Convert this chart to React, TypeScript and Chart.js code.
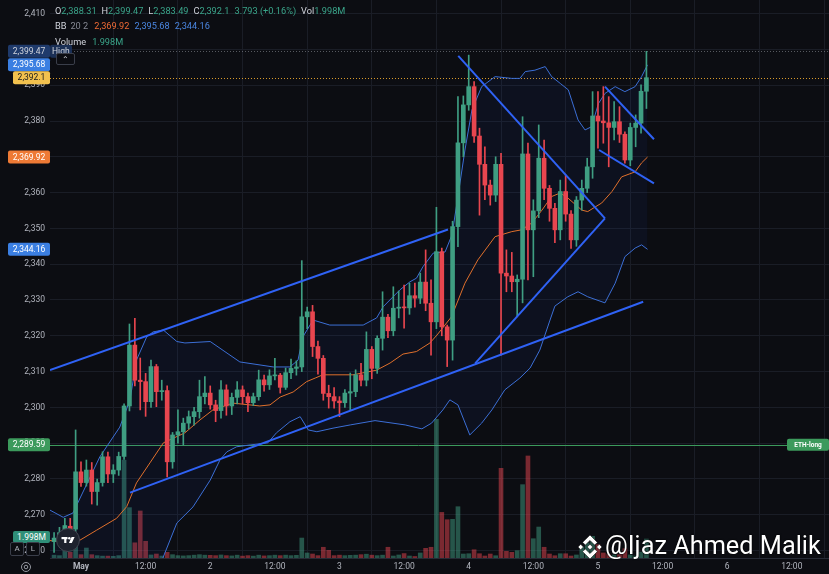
import React, { useEffect, useRef } from "react";
import { Chart, registerables } from "chart.js";
Chart.register(...registerables);

// ---------- data ----------
const firstHour = -5; // hours relative to May 1 00:00
const opens = [2262.5,2263.5,2265,2266.8,2266,
2282,2279,2282.5,2276.5,2279,2286.2,2281.4,2282.5,2286.3,2300.4,2317.4,2307.6,2307.2,2301.6,2311.4,2304.4,2304.7,2284.8,2292.3,2293.2,
2295.6,2297.4,2298.8,2303,2304,2300.7,2299.1,2304.9,2300.4,2302.8,2304.9,2303,2301.3,2303,2307.7,2306.3,2308.8,2309.0,2305.6,2309.7,
2310.9,2311.3,2325.3,2326.7,2317,2313.7,2303.9,2303,2301.8,2301.3,2304,2304.4,2309.1,2307.6,2316.2,2310.9,2319.3,2325.2,2321.4,2327.7,
2328,2327.8,2331.2,2330.5,2335,2329.1,2323.9,2343.5,2322.5,2318.8,2350.5,2373.9,2384.5,2389.6,2375.8,2367.9,2362.1,2359.3,2367.9,2337.5,
2336.7,2335.1,2335.8,2370.8,2349.6,2354.9,2369.6,2361.2,2355.6,2349.6,2360.3,2354,2346.8,2357.9,2361.2,2367.2,2381.4,2380,2379.5,2378.2,
2379.8,2376.3,2369.1,2378.2,2379.4,2388.31];
const highs = [2265,2266.5,2269,2269,2293.7,
2284.8,2285.3,2284.6,2280,2287.6,2287.5,2284,2287.5,2301,2323.3,2324.9,2313.8,2309.5,2313.2,2312,2307.6,2306,2293,2299.3,2297,
2299,2300,2307.6,2308.6,2306,2302,2307.5,2306.3,2304,2307.2,2306,2304,2304,2310.4,2309,2310.5,2313.7,2309.5,2311,2313.5,
2313,2341,2328,2328.5,2318.5,2314.5,2306.2,2305.5,2303,2305,2309.6,2310.5,2312.3,2321.1,2317,2320,2332.3,2326,2333.7,2332.5,
2334.2,2334.7,2334.7,2337.5,2344,2335.6,2355.9,2344.5,2323,2352,2386.8,2387,2398.4,2391,2378,2372.8,2363.5,2370,2371,2344,
2343.3,2337,2381.2,2373.8,2358,2378.9,2374.7,2362,2357,2363.5,2364.9,2355,2358.9,2363.5,2369.6,2388.2,2388.2,2389.6,2386.8,2385.4,
2384,2377,2379.4,2381.7,2390.1,2399.47];
const lows = [2259.5,2262,2264,2265,2264,
2277.9,2278,2273,2272.7,2278,2279,2279,2281,2285.5,2299,2306,2299.3,2297.5,2300,2300.2,2302,2280.6,2283,2290,2289.5,
2294,2295,2297,2301,2299.5,2296,2297,2297.8,2298,2301,2301,2298.8,2300.5,2302,2304.5,2305,2307.7,2304,2305,2308,
2309,2310,2322,2314.2,2309.3,2302,2299.8,2299.8,2297.4,2300,2299.3,2303,2306,2306,2308,2309.5,2316,2319.5,2320,2325,
2322.1,2326,2328,2329,2327,2314.6,2322,2320,2311.4,2313.2,2344.9,2370,2383,2374,2353.7,2358,2356.5,2357.5,2314.6,2332.3,
2332.3,2325.3,2329.2,2335.6,2336.5,2353,2358,2352,2346,2346.8,2352,2344.4,2345,2355.1,2360,2364,2372.4,2373.8,2367.2,2374.7,
2374,2368.2,2367.5,2372.8,2376.6,2383.49];
const closes = [2263.5,2265,2267,2265.9,2282,
2279,2282.5,2276.5,2279,2286.2,2281.4,2282.5,2286.3,2300.4,2317.4,2307.6,2307.2,2301.6,2311.4,2304.4,2304.7,2284.8,2292.3,2293.2,2295.6,
2297.4,2298.8,2303,2304,2300.7,2299.1,2304.9,2300.4,2302.8,2304.9,2303,2301.3,2303,2307.7,2306.3,2308.8,2309.0,2305.6,2309.7,2310.9,
2311.3,2325.3,2326.7,2317,2313.7,2303.9,2303,2301.8,2301.3,2304,2304.4,2309.1,2307.6,2316.2,2310.9,2319.3,2325.2,2321.4,2327.7,2328,
2327.8,2331.2,2330.5,2335,2329.1,2323.9,2343.5,2322.5,2318.8,2350.5,2373.9,2384.5,2389.6,2375.8,2367.9,2362.1,2359.3,2367.9,2337.5,2336.7,
2335.1,2335.8,2370.8,2349.6,2354.9,2369.6,2361.2,2355.6,2349.6,2360.3,2354,2346.8,2357.9,2361.2,2367.2,2381.4,2380,2379.5,2378.2,2379.8,
2376.3,2369.1,2378.2,2379.4,2388.31,2392.1];
const volumes = [0.3,0.25,1.3,0.6,2.1,
0.35,1.05,0.35,0.25,0.2,0.2,0.18,0.25,10.3,5.3,1.6,4.95,1.76,0.32,0.42,0.21,0.6,0.35,0.25,0.22,
0.25,0.3,0.35,0.3,0.28,0.25,0.32,0.25,0.22,0.3,0.2,0.25,0.2,0.3,0.22,0.25,0.3,0.25,0.3,0.25,
0.28,2.1,0.53,0.42,0.25,1.13,0.81,0.25,0.3,0.25,0.28,0.3,0.35,0.4,0.3,0.25,0.3,1.13,0.21,0.32,
0.47,0.21,0.16,0.53,1.02,1.13,14.6,4.8,4.03,4.07,5.4,0.42,0.45,0.87,0.45,0.21,0.42,0.24,9.44,0.7,
0.6,0.77,7.72,10.74,2.03,3.26,1.13,0.42,0.24,0.45,0.45,0.21,0.32,1.16,1.58,2.28,1.4,0.53,0.37,0.32,
0.35,0.98,0.32,0.21,0.63,1.998];

// Bollinger band readings (hour, price)
const bbUpperH = [-5.76,-3.3,-1.5,3.5,7.2,9.1,10.3,12.2,13.4,15.3,17.8,19.3,24,29.5,35.7,38.8,40.3,41.2,43.1,46.2,52.4,54.9,56.1,59.2,61.1,62.3,63.5,65.4,67.6,68.9,70,71.3,72.6,74.4,76.9,80,81.5,82.5,84.3,86.2,87.4,89,90.5,92.3,93.6,94.8,96.1,97.3,99.2,101,102.9,104.1,105.2];
const bbUpperV = [2271.3,2269.3,2270.5,2286.2,2294.5,2302.1,2313.2,2319.7,2321.1,2321.6,2318.4,2318,2318.4,2312.7,2311.3,2311.3,2313.2,2319.7,2324.4,2323,2323,2325,2328.1,2332.8,2335.1,2336.1,2339.3,2343.1,2343.4,2348.2,2358.9,2371.9,2383.1,2389.6,2392.4,2391.9,2391.9,2393.8,2394.2,2395.2,2392.4,2390.5,2388.7,2380.3,2377.5,2378.4,2384.9,2387.7,2389.6,2388.2,2389.6,2392.4,2395.68];
const bbMidH = [-5.76,-1.1,2.9,6.6,8.5,10.3,12.8,15.3,19.3,22.1,24.5,28.2,33.2,35.1,37,39.4,41.9,43.5,44.9,50.5,54.9,57.4,59.8,62.3,64.8,66.1,68.8,71.3,73.7,76.9,80,81.8,83.7,85.6,87.4,89,90.4,93,94.1,96.7,98.6,100.4,102.9,104.1,105.2];
const bbMidV = [2262.8,2262.1,2265.7,2269,2272.3,2278.9,2284.5,2290.1,2292.9,2296.5,2299.3,2301.2,2300.4,2300.7,2302.9,2304.3,2307.2,2308.2,2309.1,2309.1,2310.4,2312.4,2314.9,2315.6,2318,2320.2,2325.3,2334.7,2341.2,2347.7,2349.1,2349.6,2351.5,2355.1,2358.9,2359.9,2358.5,2355.1,2354.7,2357.1,2360.3,2364.4,2365.8,2368.3,2369.92];
const bbLowerH = [-5.76,0,5,10,13,15.2,17.8,20.8,24,25.8,27.1,28.9,31.4,34.7,36.3,38.8,40.7,42.2,43.8,46.8,50,54.6,60.2,63.3,65.1,67.2,68.5,70,72.2,74.4,76.3,78.7,81.5,83.4,85.2,87.1,88,90.4,92.3,94.1,97.3,99.2,101,102.9,104.1,105.2];
const bbLowerV = [2255,2251,2247,2247,2252,2257.9,2267.7,2272.2,2279.7,2285.3,2287.6,2289,2289.5,2290.1,2292.9,2296,2297.4,2293.7,2293.2,2294.2,2295.1,2296.3,2295.1,2294,2295.6,2299.3,2302.1,2300.7,2292.3,2295.6,2299.3,2304.9,2308.2,2311,2316,2324.4,2328.3,2330.9,2332.3,2330.9,2329.2,2334.7,2342.1,2344.5,2345.4,2344.16];

// drawn trend lines [h1, p1, h2, p2]
const trendLines = [
  [-5.76, 2310.4, 68.15, 2349.7],
  [9.1, 2276.2, 104.4, 2329.5],
  [70.06, 2398.2, 97.3, 2352.8],
  [97.3, 2352.8, 73.2, 2312.3],
  [97.3, 2389.6, 106.4, 2374.9],
  [96.2, 2371.9, 106.4, 2362.6],
];

const levelHigh = 2399.47;
const levelClose = 2392.1;
const levelLong = 2289.59;

const xTickHours = [0, 12, 24, 36, 48, 60, 72, 84, 96, 108, 120, 132];
const xTickLabels = ["May", "12:00", "2", "12:00", "3", "12:00", "4", "12:00", "5", "12:00", "6", "12:00"];
const yTicks = [2260, 2270, 2280, 2290, 2300, 2310, 2320, 2330, 2340, 2350, 2360, 2370, 2380, 2390, 2400, 2410];

const axisBoxes = [
  { value: 2399.47, text: "2,399.47", bg: "#1f3a6b", fg: "#d1d4dc", left: 8 },
  { value: 2395.68, text: "2,395.68", bg: "#3b7fe2", fg: "#ffffff", left: 8 },
  { value: 2392.1, text: "2,392.1", bg: "#f2c14e", fg: "#1a1a1a", left: 13 },
  { value: 2369.92, text: "2,369.92", bg: "#ee7a35", fg: "#ffffff", left: 8 },
  { value: 2344.16, text: "2,344.16", bg: "#3b7fe2", fg: "#ffffff", left: 8 },
  { value: 2289.59, text: "2,289.59", bg: "#3c9a5c", fg: "#ffffff", left: 8 },
];

// ---------- style ----------
const BG = "#0c0d12";
const GRID = "#1a1d26";
const UP = "#3f9e82";
const DOWN = "#e8464f";
const UPV = "rgba(63,158,130,0.5)";
const DOWNV = "rgba(232,70,79,0.5)";
const BBLINE = "#3c6fd6";
const TL = "#2f62f5";
const FONT = "Roboto, 'Liberation Sans', sans-serif";

function rr(ctx: CanvasRenderingContext2D, x: number, y: number, w: number, h: number, r: number) {
  ctx.beginPath();
  ctx.moveTo(x + r, y);
  ctx.lineTo(x + w - r, y);
  ctx.quadraticCurveTo(x + w, y, x + w, y + r);
  ctx.lineTo(x + w, y + h - r);
  ctx.quadraticCurveTo(x + w, y + h, x + w - r, y + h);
  ctx.lineTo(x + r, y + h);
  ctx.quadraticCurveTo(x, y + h, x, y + h - r);
  ctx.lineTo(x, y + r);
  ctx.quadraticCurveTo(x, y, x + r, y);
  ctx.closePath();
}

const overlayPlugin = {
  id: "overlay",
  beforeDatasetsDraw(chart: any) {
    const { ctx, chartArea, scales } = chart;
    const y = scales.y;
    ctx.save();
    ctx.lineWidth = 1;
    let py = Math.round(y.getPixelForValue(levelHigh)) + 0.5;
    ctx.setLineDash([1, 2]);
    ctx.strokeStyle = "rgba(178,181,190,0.45)";
    ctx.beginPath();
    ctx.moveTo(chartArea.left, py);
    ctx.lineTo(chartArea.right, py);
    ctx.stroke();
    py = Math.round(y.getPixelForValue(levelClose)) + 0.5;
    ctx.strokeStyle = "#d99a2b";
    ctx.beginPath();
    ctx.moveTo(chartArea.left, py);
    ctx.lineTo(chartArea.right, py);
    ctx.stroke();
    ctx.setLineDash([]);
    py = Math.round(y.getPixelForValue(levelLong)) + 0.5;
    ctx.strokeStyle = "#3c9a5c";
    ctx.beginPath();
    ctx.moveTo(chartArea.left, py);
    ctx.lineTo(chartArea.right - 42, py);
    ctx.stroke();
    ctx.restore();
  },
  afterDraw(chart: any) {
    const { ctx, chartArea, scales } = chart;
    const y = scales.y;
    ctx.save();
    ctx.textBaseline = "middle";
    const ly = y.getPixelForValue(levelLong);
    ctx.fillStyle = "#3c9a5c";
    rr(ctx, chartArea.right - 42, ly - 6, 42, 12, 2);
    ctx.fill();
    ctx.fillStyle = "#ffffff";
    ctx.font = `bold 6.5px ${FONT}`;
    ctx.textAlign = "center";
    ctx.fillText("ETH-long", chartArea.right - 21, ly + 0.5);
    const hy = y.getPixelForValue(levelHigh);
    ctx.fillStyle = "#1a2f55";
    rr(ctx, chartArea.left, hy - 6.5, 22, 13, 2);
    ctx.fill();
    ctx.fillStyle = "#d1d4dc";
    ctx.font = `8.5px ${FONT}`;
    ctx.textAlign = "left";
    ctx.fillText("High", chartArea.left + 2, hy + 0.5);
    for (const b of axisBoxes) {
      const cy = y.getPixelForValue(b.value);
      ctx.fillStyle = b.bg;
      rr(ctx, b.left, cy - 6.5, chartArea.left - b.left, 13, 2);
      ctx.fill();
      ctx.fillStyle = b.fg;
      ctx.font = `8.5px ${FONT}`;
      ctx.textAlign = "center";
      ctx.fillText(b.text, (b.left + chartArea.left) / 2, cy + 0.5);
    }
    ctx.restore();
  },
};

export default function App() {
  const ref = useRef<HTMLCanvasElement>(null);
  useEffect(() => {
    document.body.style.background = BG;
    const canvas = ref.current!;
    const xs = opens.map((_, i) => firstHour + i);
    const isUp = opens.map((o, i) => closes[i] >= o);
    const pts = (hs: number[], vs: number[]) => hs.map((h, i) => ({ x: h, y: vs[i] }));

    const datasets: any[] = [
      {
        type: "line", label: "upper", data: pts(bbUpperH, bbUpperV), borderColor: BBLINE, borderWidth: 1,
        pointRadius: 0, tension: 0, fill: "+2", backgroundColor: "rgba(41,98,255,0.055)", order: 9,
      },
      {
        type: "line", label: "basis", data: pts(bbMidH, bbMidV), borderColor: "#e0702c", borderWidth: 1,
        pointRadius: 0, tension: 0, fill: false, order: 8,
      },
      {
        type: "line", label: "lower", data: pts(bbLowerH, bbLowerV), borderColor: BBLINE, borderWidth: 1,
        pointRadius: 0, tension: 0, fill: false, order: 8,
      },
      {
        type: "bar", label: "volume", yAxisID: "v", data: xs.map((x, i) => ({ x, y: volumes[i] })),
        backgroundColor: isUp.map((u) => (u ? UPV : DOWNV)), barThickness: 4, grouped: false, order: 10,
      },
      {
        type: "bar", label: "wick", data: xs.map((x, i) => ({ x, y: [lows[i], highs[i]] })),
        backgroundColor: isUp.map((u) => (u ? UP : DOWN)), barThickness: 1, grouped: false, order: 5,
      },
      {
        type: "bar", label: "body", data: xs.map((x, i) => ({ x, y: [opens[i], closes[i]] })),
        backgroundColor: isUp.map((u) => (u ? UP : DOWN)), barThickness: 4, grouped: false, minBarLength: 1, order: 4,
      },
      ...trendLines.map((t, k) => ({
        type: "line", label: "tl" + k, data: [{ x: t[0], y: t[1] }, { x: t[2], y: t[3] }],
        borderColor: TL, borderWidth: 2, pointRadius: 0, fill: false, order: 1,
      })),
    ];

    const chart = new Chart(canvas, {
      type: "bar",
      data: { datasets },
      plugins: [overlayPlugin],
      options: {
        responsive: false,
        animation: false,
        layout: { padding: 0 },
        plugins: { legend: { display: false }, tooltip: { enabled: false } },
        scales: {
          x: {
            type: "linear",
            min: (50 - 81) / 5.385,
            max: (829 - 81) / 5.385,
            offset: false,
            grid: { color: GRID, drawTicks: false },
            border: { display: true, color: "#262a35" },
            afterBuildTicks: (s: any) => { s.ticks = xTickHours.map((v) => ({ value: v })); },
            afterFit: (s: any) => { s.height = 16; s.paddingLeft = 0; s.paddingRight = 0; },
            ticks: {
              padding: 4,
              color: "#b2b5be",
              maxRotation: 0,
              autoSkip: false,
              font: (c: any) => ({ family: FONT, size: 8.5, weight: c.tick && c.tick.value === 0 ? "bold" : "normal" }),
              callback: (v: any) => { const k = xTickHours.indexOf(Number(v)); return k >= 0 ? xTickLabels[k] : ""; },
            },
          },
          y: {
            type: "linear",
            position: "left",
            min: 2257.93,
            max: 2413.8,
            grid: { color: GRID, drawTicks: false },
            border: { display: false },
            afterBuildTicks: (s: any) => { s.ticks = yTicks.map((v) => ({ value: v })); },
            afterFit: (s: any) => { s.width = 50; s.paddingTop = 0; s.paddingBottom = 0; },
            ticks: {
              padding: 5,
              color: "#b2b5be",
              font: { family: FONT, size: 8.5 },
              callback: (v: any) => Number(v).toLocaleString("en-US"),
            },
          },
          v: { type: "linear", display: false, min: 0, max: 558 / 9.5 },
        },
      } as any,
    } as any);
    return () => chart.destroy();
  }, []);

  const lbl: React.CSSProperties = { color: "#d1d4dc" };
  const grn: React.CSSProperties = { color: "#3aa58a" };
  const line: React.CSSProperties = {
    position: "absolute", left: 55, fontFamily: FONT, fontSize: 9.2, whiteSpace: "nowrap", lineHeight: "12px",
  };

  return (
    <div style={{ position: "fixed", left: 0, top: 0, width: 829, height: 574, background: BG, overflow: "hidden" }}>
      <canvas ref={ref} width={829} height={574} style={{ position: "absolute", left: 0, top: 0, width: 829, height: 574 }} />
      <div style={{ ...line, top: 5 }}>
        <span style={lbl}>O</span><span style={grn}>2,388.31</span>
        <span style={{ ...lbl, marginLeft: 5 }}>H</span><span style={grn}>2,399.47</span>
        <span style={{ ...lbl, marginLeft: 5 }}>L</span><span style={grn}>2,383.49</span>
        <span style={{ ...lbl, marginLeft: 5 }}>C</span><span style={grn}>2,392.1</span>
        <span style={{ ...grn, marginLeft: 5 }}>3.793 (+0.16%)</span>
        <span style={{ ...lbl, marginLeft: 5 }}>Vol</span><span style={grn}>1.998M</span>
      </div>
      <div style={{ ...line, top: 20 }}>
        <span style={lbl}>BB</span>
        <span style={{ color: "#868993", marginLeft: 4 }}>20 2</span>
        <span style={{ color: "#ee6a35", marginLeft: 6 }}>2,369.92</span>
        <span style={{ color: "#4a86e0", marginLeft: 5 }}>2,395.68</span>
        <span style={{ color: "#4a86e0", marginLeft: 5 }}>2,344.16</span>
      </div>
      <div style={{ ...line, top: 35.5 }}>
        <span style={lbl}>Volume</span>
        <span style={{ ...grn, marginLeft: 6 }}>1.998M</span>
      </div>
      <div style={{ position: "absolute", left: 56, top: 53, width: 17, height: 10, border: "1px solid #3a3e4a", borderRadius: 2, background: BG, color: "#d1d4dc", fontSize: 8, lineHeight: "12px", textAlign: "center", fontFamily: FONT }}>⌃</div>
      <div style={{ position: "absolute", left: 13, top: 531, width: 37, height: 12, background: "#2f8f78", borderRadius: 2, color: "#fff", fontSize: 8.5, lineHeight: "12px", textAlign: "center", fontFamily: FONT }}>1.998M</div>
      <div style={{ position: "absolute", left: 10, top: 542, width: 12, height: 12, border: "1px solid #3a3e4a", borderRadius: 2, background: BG, color: "#b2b5be", fontSize: 8, lineHeight: "12px", textAlign: "center", fontFamily: FONT }}>A</div>
      <div style={{ position: "absolute", left: 26, top: 542, width: 12, height: 12, border: "1px solid #3a3e4a", borderRadius: 2, background: BG, color: "#b2b5be", fontSize: 8, lineHeight: "12px", textAlign: "center", fontFamily: FONT }}>L</div>
      <div style={{ position: "absolute", left: 56, top: 528, width: 24, height: 24, borderRadius: 12, background: "#1e222d", border: "1px solid #434651", boxSizing: "border-box" }}>
        <svg width="22" height="22" viewBox="0 0 22 22" style={{ position: "absolute", left: 0, top: 0 }}>
          <rect x="4.5" y="8" width="6" height="2.2" fill="#fff" />
          <rect x="7.2" y="8" width="2.2" height="6" fill="#fff" />
          <circle cx="12.3" cy="9.2" r="1.2" fill="#fff" />
          <path d="M14.6 8 L17.6 8 L14.8 14 L11.9 14 Z" fill="#fff" />
        </svg>
      </div>
      <svg width="12" height="12" viewBox="0 0 12 12" style={{ position: "absolute", left: 20, top: 561 }}>
        <circle cx="6" cy="6" r="4.5" fill="none" stroke="#9598a1" strokeWidth="1" />
        <circle cx="6" cy="6" r="1.8" fill="none" stroke="#9598a1" strokeWidth="1" />
      </svg>
      <svg width="24" height="24" viewBox="0 0 126.61 126.61" style={{ position: "absolute", left: 578, top: 535 }}>
        <path fill="#ffffff" stroke="#111" strokeWidth="3" d="M38.73 53.2l24.59-24.58 24.6 24.6 14.3-14.31L63.32 0 24.43 38.9l14.3 14.3zM0 63.31l14.3-14.31 14.31 14.31-14.31 14.3zM38.73 73.41l24.59 24.59 24.6-24.6 14.31 14.29-38.9 38.91-38.91-38.88-.02-.02zM98 63.31l14.3-14.31 14.31 14.3-14.31 14.32zM77.83 63.3l-14.51-14.52-10.73 10.73-1.24 1.23-2.54 2.54-.02.02.02.02 14.51 14.5 14.51-14.52.01-.01-.01-.01z" />
      </svg>
      <div style={{ position: "absolute", left: 605, top: 531, fontFamily: FONT, fontSize: 25.3, color: "#ffffff", whiteSpace: "nowrap", lineHeight: "30px", textShadow: "0 0 2px #000, 0 0 1px #000" }}>@Ijaz Ahmed Malik</div>
    </div>
  );
}
